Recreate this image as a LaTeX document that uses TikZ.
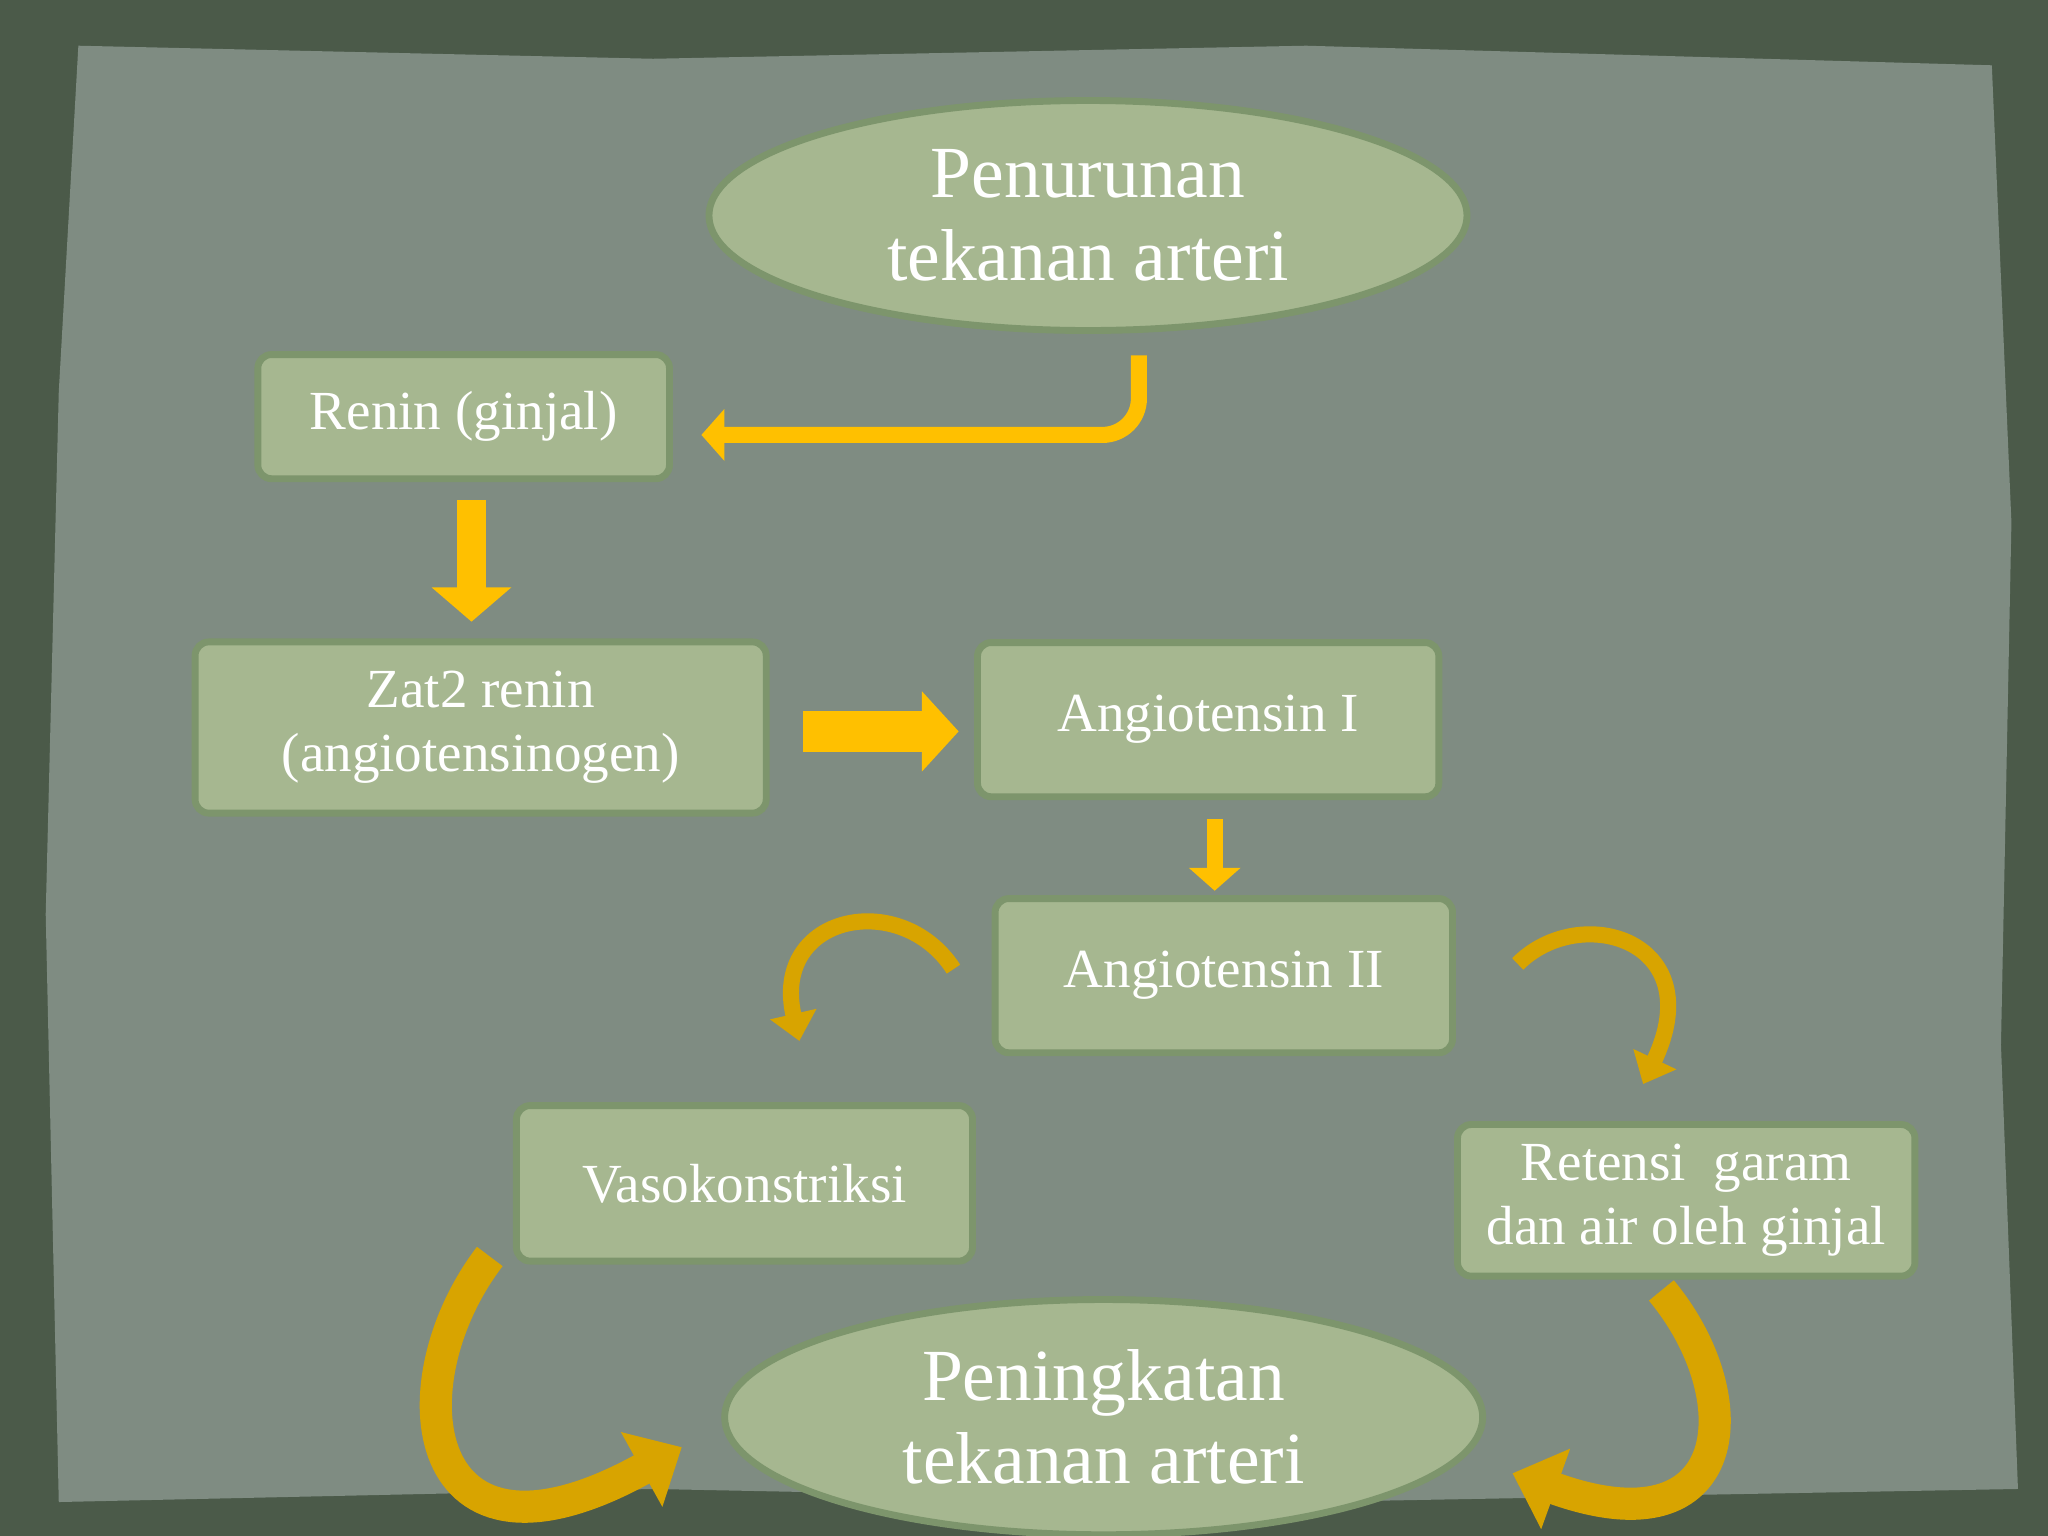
\documentclass[tikz,border=0pt]{standalone}
\usepackage{fontspec}
\setmainfont{Liberation Serif}
\usetikzlibrary{shapes.geometric,arrows.meta}
\definecolor{bgdark}{HTML}{4B5A49}
\definecolor{bgin}{HTML}{7F8C82}
\definecolor{nfill}{HTML}{A6B790}
\definecolor{nline}{HTML}{7D956C}
\definecolor{arr}{HTML}{FFC000}
\definecolor{arrd}{HTML}{D8A400}
\tikzset{
 box/.style={draw=nline,line width=1.5pt,fill=nfill,rounded corners=3pt,text=white,align=center,font=\fontsize{12}{14}\selectfont},
 oval/.style={ellipse,draw=nline,line width=1.5pt,fill=nfill,text=white,align=center,font=\fontsize{16}{18}\selectfont,inner sep=0pt},
}
\begin{document}
\begin{tikzpicture}[x=0.01cm,y=-0.01cm]
\useasboundingbox (0,0) rectangle (1568,1176);
\fill[bgdark] (0,0) rectangle (1568,1176);
\fill[bgin] (60,35) -- (500,45) -- (1000,35) -- (1525,50) -- (1540,400) -- (1532,800) -- (1545,1140) -- (1000,1150) -- (500,1140) -- (45,1150) -- (35,700) -- (45,300) -- cycle;
\node[oval,minimum width=5.8cm,minimum height=1.76cm] (top) at (833,165) {Penurunan\\tekanan arteri};
\node[oval,minimum width=5.8cm,minimum height=1.8cm] (bot) at (845,1085) {Peningkatan\\tekanan arteri};
\node[box,minimum width=3.15cm,minimum height=0.95cm] (renin) at (355,319) {Renin (ginjal)};
\node[box,minimum width=4.37cm,minimum height=1.31cm] (zat) at (368,557) {Zat2 renin\\(angiotensinogen)};
\node[box,minimum width=3.53cm,minimum height=1.18cm] (a1) at (925,551) {Angiotensin I};
\node[box,minimum width=3.5cm,minimum height=1.18cm] (a2) at (937,747) {Angiotensin II};
\node[box,minimum width=3.49cm,minimum height=1.19cm] (vaso) at (570,906) {Vasokonstriksi};
\node[box,minimum width=3.5cm,minimum height=1.16cm] (ret) at (1291,919) {Retensi\ \ garam\\dan air oleh ginjal};
% arrows
\coordinate (t1) at (872,272);
\coordinate (t2) at (537,333);
\draw[draw=arr,line width=3.5pt,-{Triangle[length=5pt,width=11pt]}] (t1) -- (872,305) to[out=-90,in=0] (844,333) -- (t2);
\coordinate (d1) at (361,383); \coordinate (d2) at (361,476);
\draw[draw=arr,line width=6.5pt,-{Triangle[length=7.5pt,width=17pt]}] (d1) -- (d2);
\coordinate (e1) at (615,560); \coordinate (e2) at (734,560);
\draw[draw=arr,line width=9pt,-{Triangle[length=8pt,width=17pt]}] (e1) -- (e2);
\coordinate (f1) at (930,627); \coordinate (f2) at (930,682);
\draw[draw=arr,line width=3.5pt,-{Triangle[length=5pt,width=11pt]}] (f1) -- (f2);
\coordinate (l1) at (730,742); \coordinate (l2) at (612,797);
\draw[draw=arrd,line width=3.5pt,-{Triangle[length=6pt,width=10pt]}] (l1) .. controls (690,680) and (590,700) .. (l2);
\coordinate (r1) at (1162,738); \coordinate (r2) at (1258,830);
\draw[draw=arrd,line width=3.5pt,-{Triangle[length=6pt,width=10pt]}] (r1) .. controls (1210,690) and (1310,720) .. (r2);
\coordinate (b1) at (375,962); \coordinate (b2) at (522,1108);
\draw[draw=arrd,line width=7pt,-{Triangle[length=10pt,width=18pt]}] (b1) .. controls (300,1060) and (320,1220) .. (b2);
\coordinate (c1) at (1272,988); \coordinate (c2) at (1158,1128);
\draw[draw=arrd,line width=7pt,-{Triangle[length=10pt,width=18pt]}] (c1) .. controls (1340,1070) and (1330,1190) .. (c2);
\end{tikzpicture}
\end{document}
